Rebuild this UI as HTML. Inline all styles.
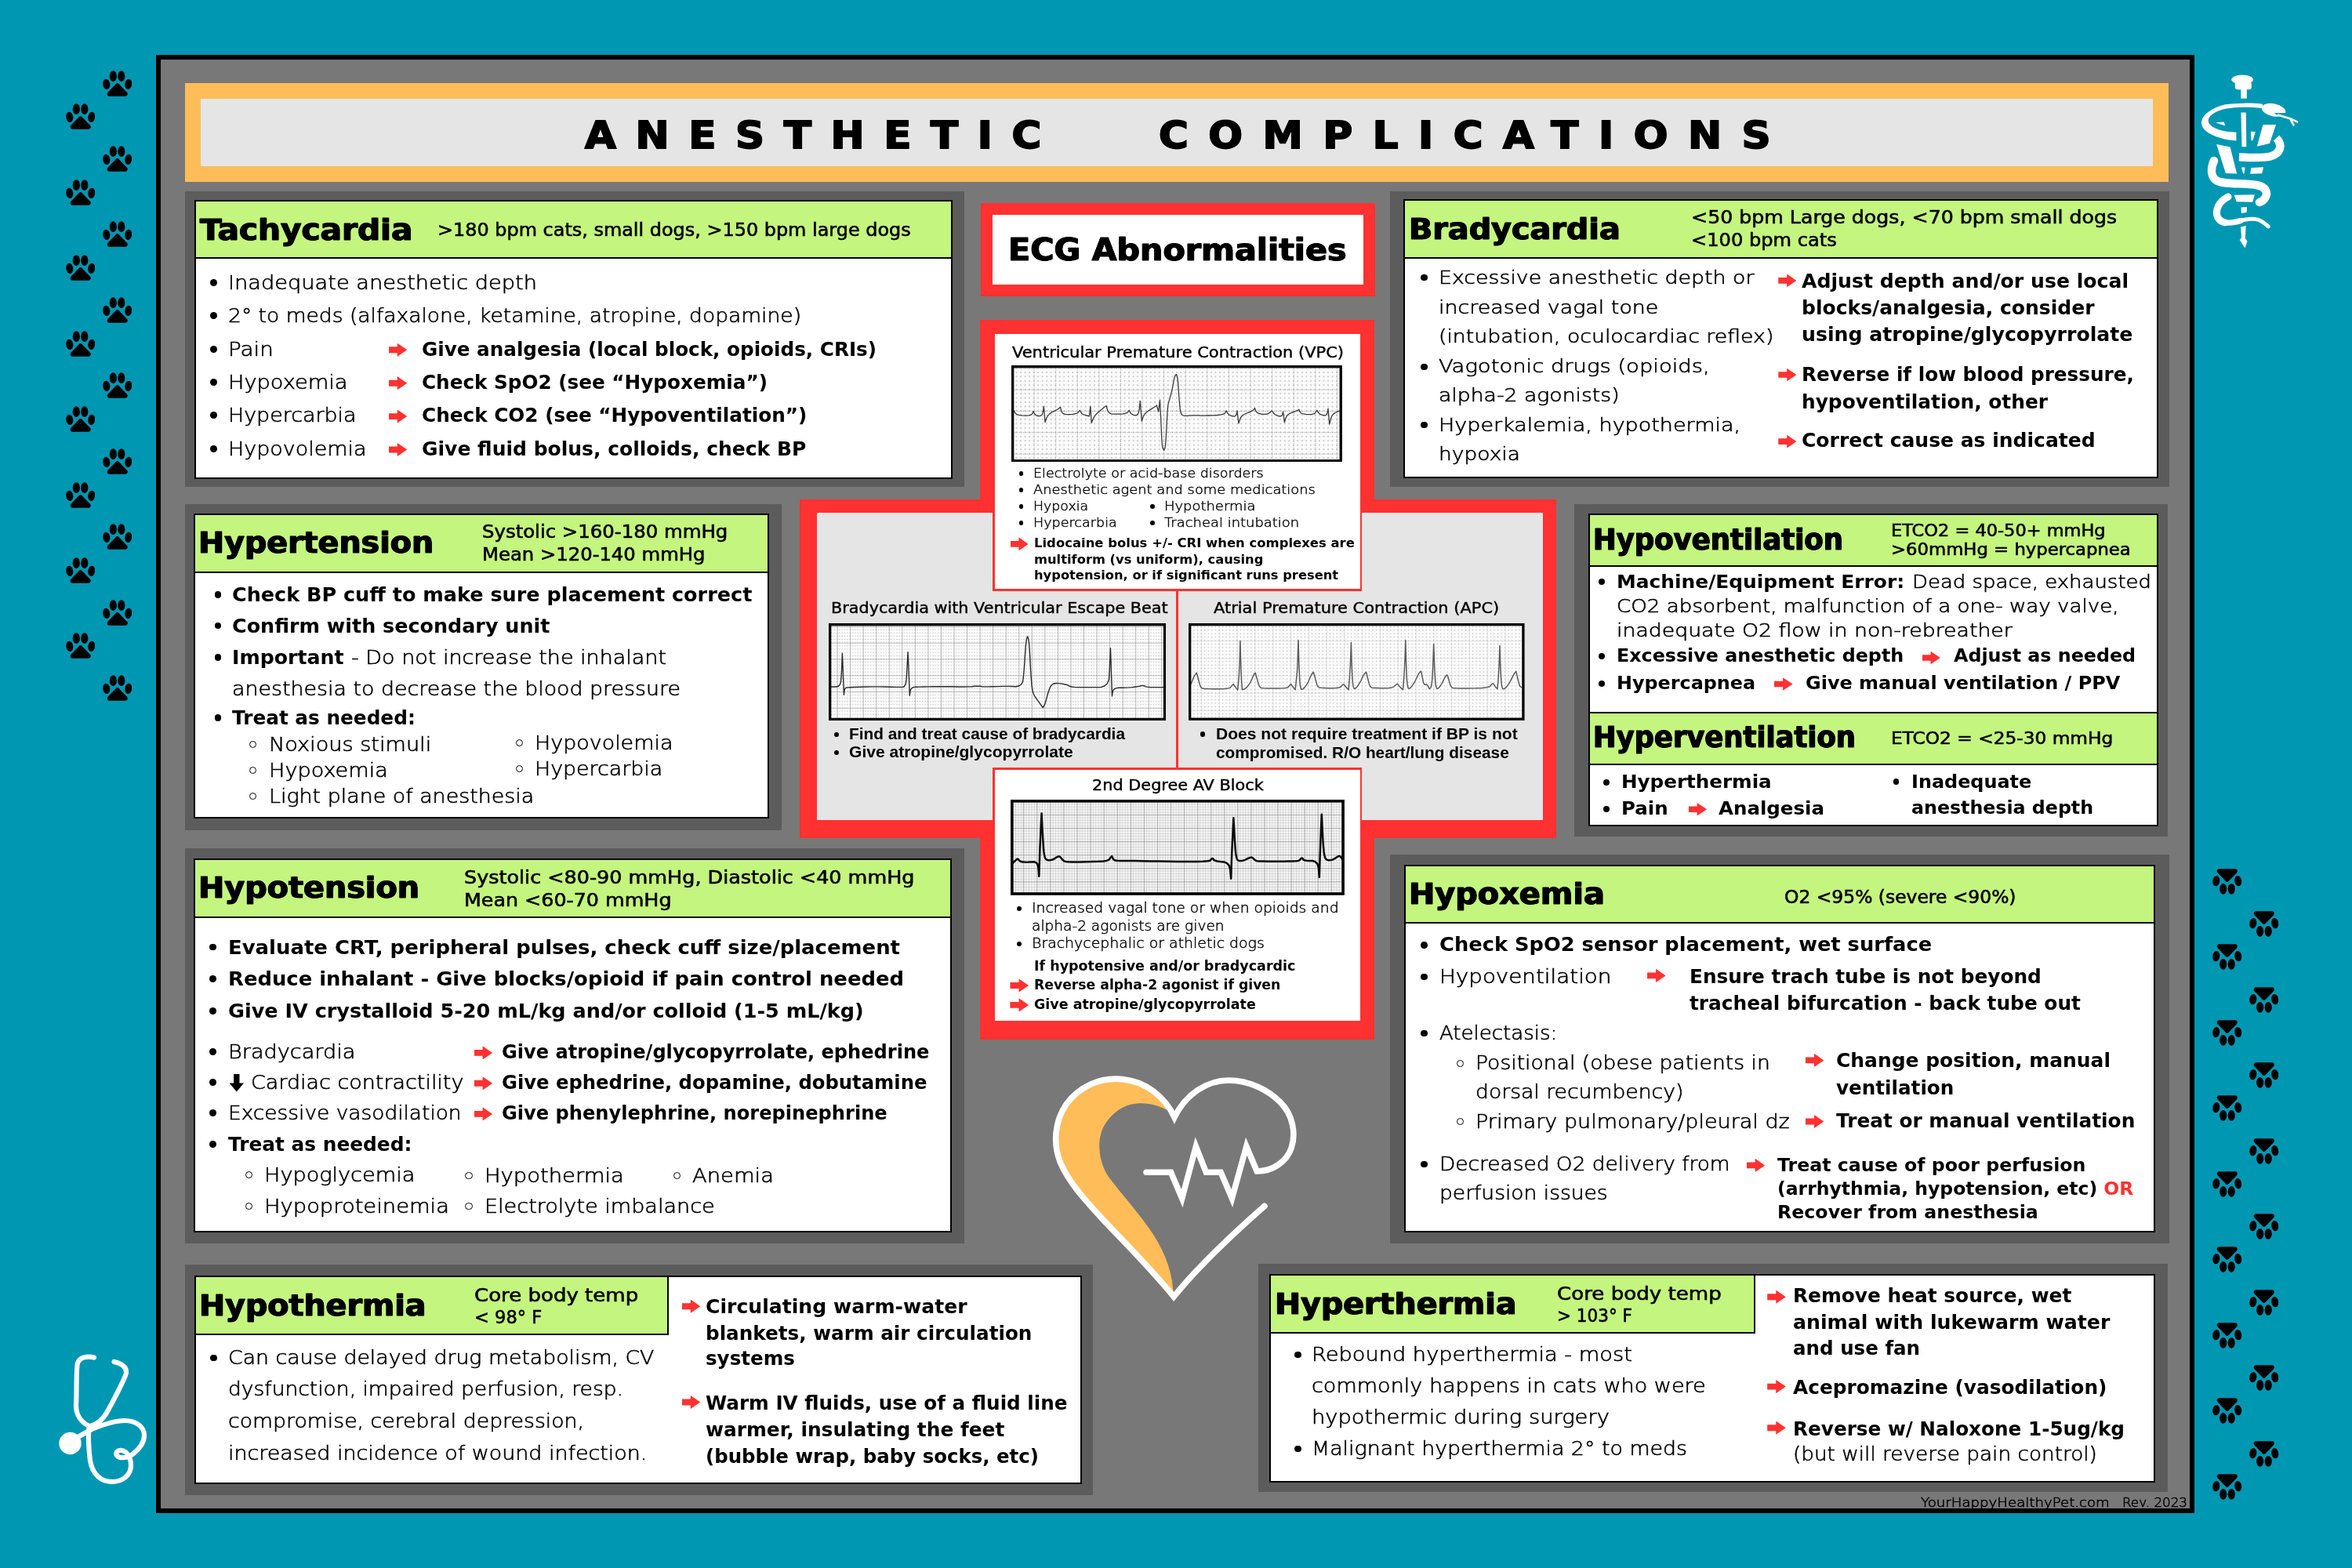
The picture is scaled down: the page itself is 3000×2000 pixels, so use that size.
<!DOCTYPE html>
<html lang="en"><head><meta charset="utf-8"><title>Anesthetic Complications</title>
<style>
html,body{margin:0;padding:0}
body{width:3000px;height:2000px;background:#0097b2;position:relative;overflow:hidden;font-family:'DejaVu Sans','Liberation Sans',sans-serif;color:#000}
#page{position:absolute;left:0;top:0;width:3000px;height:2000px;will-change:transform}
.bx,.t,i,svg.ecg,svg.paw,svg.ic{position:absolute;display:block}
.main{border:6px solid #000;box-sizing:border-box}
.pan{border:2px solid #000;box-sizing:border-box}
.hd{border:2px solid #000;box-sizing:border-box}
.t{white-space:nowrap;line-height:1;transform-origin:0 0;margin:0}
.dot{background:#000;border-radius:50%}
.ring{border:1.4px solid #000;border-radius:50%;box-sizing:border-box}
.ar{background:#ff3131;clip-path:polygon(0 27%,47% 27%,47% 0,100% 50%,47% 100%,47% 73%,0 73%)}
.dn{background:#000;clip-path:polygon(30% 0,70% 0,70% 52%,100% 52%,50% 100%,0 52%,30% 52%)}
.sH{font-family:'DejaVu Sans',sans-serif;font-weight:bold;-webkit-text-stroke:0.8px #000;text-shadow:.7px 0 #000,-.7px 0 #000;}
.sT{font-family:'DejaVu Sans',sans-serif;font-weight:bold;-webkit-text-stroke:1.8px #000;text-shadow:.7px 0 #000,-.7px 0 #000;}
.sS{font-family:'DejaVu Sans',sans-serif;font-weight:normal;-webkit-text-stroke:0.6px #000;}
.sM{font-family:'DejaVu Sans',sans-serif;font-weight:normal;-webkit-text-stroke:0.4px #000;}
.sL{font-family:'DejaVu Sans Light','DejaVu Sans',sans-serif;font-weight:normal;-webkit-text-stroke:0.6px #000;}
.sl{font-family:'DejaVu Sans Light','DejaVu Sans',sans-serif;font-weight:normal;-webkit-text-stroke:0.45px #000;}
.sB{font-family:'DejaVu Sans',sans-serif;font-weight:bold;}
.sO{font-family:'Liberation Sans',sans-serif;font-weight:bold;}
.sF{font-family:'DejaVu Sans Light','DejaVu Sans',sans-serif;font-weight:normal;-webkit-text-stroke:0.55px #000;}</style></head>
<body>
<main id="page">
<section class="frame">
<div class="bx main" style="left:198.6px;top:70px;width:2600.6px;height:1859.5px;background:#787878;"></div>
<div class="bx tb" style="left:235.7px;top:106px;width:2530.3px;height:126px;background:#ffbd59;"></div>
<div class="bx tbi" style="left:255.8px;top:126.2px;width:2490.2px;height:86px;background:#e5e5e5;"></div>
<h1 class="t sT" style="left:746.3px;top:147.58px;font-size:48.6px;letter-spacing:23.22px;transform:scaleX(1.06);">ANESTHETIC</h1>
<h1 class="t sT" style="left:1478.3px;top:147.58px;font-size:48.6px;letter-spacing:24.07px;transform:scaleX(1.06);">COMPLICATIONS</h1>
</section>
<section class="tachy">
<div class="bx back" style="left:235.9px;top:243.8px;width:994.3px;height:377.5px;background:#5c5c5c;"></div>
<div class="bx pan" style="left:247.6px;top:254.5px;width:967.1px;height:356.6px;background:#fff;"></div>
<div class="bx hd" style="left:247.6px;top:254.5px;width:967.1px;height:75.8px;background:#c4f57f;"></div>
<h2 class="t sH" style="left:254.5px;top:274.79px;font-size:37.6px;transform:scaleX(1.0817);">Tachycardia</h2>
<p class="t sS" style="left:557.5px;top:281.19px;font-size:23.3px;transform:scaleX(1.0268);">&gt;180 bpm cats, small dogs, &gt;150 bpm large dogs</p>
<i class="dot" style="left:267.73px;top:355.78px;width:8.94px;height:8.94px"></i>
<i class="dot" style="left:267.73px;top:398.28px;width:8.94px;height:8.94px"></i>
<i class="dot" style="left:267.73px;top:440.68px;width:8.94px;height:8.94px"></i>
<i class="dot" style="left:267.73px;top:483.08px;width:8.94px;height:8.94px"></i>
<i class="dot" style="left:267.73px;top:525.48px;width:8.94px;height:8.94px"></i>
<i class="dot" style="left:267.73px;top:567.88px;width:8.94px;height:8.94px"></i>
<p class="t sL" style="left:291.4px;top:347.71px;font-size:25.4px;transform:scaleX(1.0723);">Inadequate anesthetic depth</p>
<p class="t sL" style="left:291.4px;top:390.21px;font-size:25.4px;transform:scaleX(1.0449);">2° to meds (alfaxalone, ketamine, atropine, dopamine)</p>
<p class="t sL" style="left:291.4px;top:432.61px;font-size:25.4px;transform:scaleX(1.0966);">Pain</p>
<i class="ar" style="left:495.7px;top:437.7px;width:23.6px;height:17.2px"></i>
<p class="t sB" style="left:537.6px;top:432.61px;font-size:25.4px;transform:scaleX(0.9712);">Give analgesia (local block, opioids, CRIs)</p>
<p class="t sL" style="left:291.4px;top:475.01px;font-size:25.4px;transform:scaleX(1.0724);">Hypoxemia</p>
<i class="ar" style="left:495.7px;top:480.1px;width:23.6px;height:17.2px"></i>
<p class="t sB" style="left:537.6px;top:475.01px;font-size:25.4px;transform:scaleX(0.9723);">Check SpO2 (see “Hypoxemia”)</p>
<p class="t sL" style="left:291.4px;top:517.41px;font-size:25.4px;transform:scaleX(1.0587);">Hypercarbia</p>
<i class="ar" style="left:495.7px;top:522.5px;width:23.6px;height:17.2px"></i>
<p class="t sB" style="left:537.6px;top:517.41px;font-size:25.4px;transform:scaleX(0.9734);">Check CO2 (see “Hypoventilation”)</p>
<p class="t sL" style="left:291.4px;top:559.81px;font-size:25.4px;transform:scaleX(1.0604);">Hypovolemia</p>
<i class="ar" style="left:495.7px;top:564.9px;width:23.6px;height:17.2px"></i>
<p class="t sB" style="left:537.6px;top:559.81px;font-size:25.4px;transform:scaleX(0.9852);">Give fluid bolus, colloids, check BP</p>
</section>
<section class="hypertension">
<div class="bx back" style="left:236px;top:642.6px;width:760.7px;height:416.2px;background:#5c5c5c;"></div>
<div class="bx pan" style="left:247.4px;top:655.1px;width:733.9px;height:388.9px;background:#fff;"></div>
<div class="bx hd" style="left:247.4px;top:655.1px;width:733.9px;height:75.8px;background:#c4f57f;"></div>
<h2 class="t sH" style="left:253.4px;top:674.49px;font-size:37.6px;transform:scaleX(1.0534);">Hypertension</h2>
<p class="t sS" style="left:614.7px;top:665.99px;font-size:23.3px;transform:scaleX(1.0470);">Systolic &gt;160-180 mmHg</p>
<p class="t sS" style="left:614.7px;top:694.89px;font-size:23.3px;transform:scaleX(1.0427);">Mean &gt;120-140 mmHg</p>
<i class="dot" style="left:273.59px;top:753.78px;width:8.81px;height:8.81px"></i>
<i class="dot" style="left:273.59px;top:793.58px;width:8.81px;height:8.81px"></i>
<i class="dot" style="left:273.59px;top:833.98px;width:8.81px;height:8.81px"></i>
<i class="dot" style="left:273.59px;top:911.28px;width:8.81px;height:8.81px"></i>
<p class="t sB" style="left:296.3px;top:745.85px;font-size:25px;transform:scaleX(1.0191);">Check BP cuff to make sure placement correct</p>
<p class="t sB" style="left:296.3px;top:785.65px;font-size:25px;transform:scaleX(1.0161);">Confirm with secondary unit</p>
<p class="t sB" style="left:296.3px;top:826.05px;font-size:25px;transform:scaleX(1.0090);">Important</p>
<p class="t sL" style="left:448.2px;top:826.05px;font-size:25px;transform:scaleX(1.0791);">- Do not increase the inhalant</p>
<p class="t sL" style="left:296.3px;top:865.85px;font-size:25px;transform:scaleX(1.0735);">anesthesia to decrease the blood pressure</p>
<p class="t sB" style="left:296.3px;top:903.35px;font-size:25px;transform:scaleX(0.9905);">Treat as needed:</p>
<i class="ring" style="left:318.36px;top:944.95px;width:9.07px;height:9.07px"></i>
<p class="t sL" style="left:342.8px;top:937.15px;font-size:25px;transform:scaleX(1.0851);">Noxious stimuli</p>
<i class="ring" style="left:318.36px;top:978.15px;width:9.07px;height:9.07px"></i>
<p class="t sL" style="left:342.8px;top:970.35px;font-size:25px;transform:scaleX(1.0842);">Hypoxemia</p>
<i class="ring" style="left:318.36px;top:1010.65px;width:9.07px;height:9.07px"></i>
<p class="t sL" style="left:342.8px;top:1002.85px;font-size:25px;transform:scaleX(1.0746);">Light plane of anesthesia</p>
<i class="ring" style="left:657.56px;top:942.65px;width:9.07px;height:9.07px"></i>
<p class="t sL" style="left:682px;top:934.85px;font-size:25px;transform:scaleX(1.0769);">Hypovolemia</p>
<i class="ring" style="left:657.56px;top:975.85px;width:9.07px;height:9.07px"></i>
<p class="t sL" style="left:682px;top:968.05px;font-size:25px;transform:scaleX(1.0732);">Hypercarbia</p>
</section>
<section class="hypotension">
<div class="bx back" style="left:235.5px;top:1082.4px;width:994px;height:503.6px;background:#5c5c5c;"></div>
<div class="bx pan" style="left:247.2px;top:1094.5px;width:967px;height:477px;background:#fff;"></div>
<div class="bx hd" style="left:247.2px;top:1094.5px;width:967px;height:76.1px;background:#c4f57f;"></div>
<h2 class="t sH" style="left:253.4px;top:1114.19px;font-size:37.6px;transform:scaleX(1.0578);">Hypotension</h2>
<p class="t sS" style="left:591.6px;top:1106.99px;font-size:23.3px;transform:scaleX(1.0921);">Systolic &lt;80-90 mmHg, Diastolic &lt;40 mmHg</p>
<p class="t sS" style="left:591.6px;top:1135.69px;font-size:23.3px;transform:scaleX(1.0876);">Mean &lt;60-70 mmHg</p>
<i class="dot" style="left:267.28px;top:1203.63px;width:8.84px;height:8.84px"></i>
<i class="dot" style="left:267.28px;top:1243.93px;width:8.84px;height:8.84px"></i>
<i class="dot" style="left:267.28px;top:1284.83px;width:8.84px;height:8.84px"></i>
<i class="dot" style="left:267.28px;top:1337.43px;width:8.84px;height:8.84px"></i>
<i class="dot" style="left:267.28px;top:1376.33px;width:8.84px;height:8.84px"></i>
<i class="dot" style="left:267.28px;top:1415.43px;width:8.84px;height:8.84px"></i>
<i class="dot" style="left:267.28px;top:1454.93px;width:8.84px;height:8.84px"></i>
<p class="t sB" style="left:291px;top:1195.58px;font-size:25.2px;transform:scaleX(1.0291);">Evaluate CRT, peripheral pulses, check cuff size/placement</p>
<p class="t sB" style="left:291px;top:1235.88px;font-size:25.2px;transform:scaleX(1.0265);">Reduce inhalant - Give blocks/opioid if pain control needed</p>
<p class="t sB" style="left:291px;top:1276.78px;font-size:25.2px;transform:scaleX(1.0130);">Give IV crystalloid 5-20 mL/kg and/or colloid (1-5 mL/kg)</p>
<p class="t sL" style="left:291px;top:1329.38px;font-size:25.2px;transform:scaleX(1.0763);">Bradycardia</p>
<i class="dn" style="left:292.6px;top:1369.6px;width:18.4px;height:23px"></i>
<p class="t sL" style="left:320.2px;top:1368.28px;font-size:25.2px;transform:scaleX(1.0701);">Cardiac contractility</p>
<p class="t sL" style="left:291px;top:1407.38px;font-size:25.2px;transform:scaleX(1.0482);">Excessive vasodilation</p>
<i class="ar" style="left:604.5px;top:1334.3px;width:23.6px;height:17.2px"></i>
<p class="t sB" style="left:640.1px;top:1329.38px;font-size:25.2px;transform:scaleX(0.9561);">Give atropine/glycopyrrolate, ephedrine</p>
<i class="ar" style="left:604.5px;top:1373.2px;width:23.6px;height:17.2px"></i>
<p class="t sB" style="left:640.1px;top:1368.28px;font-size:25.2px;transform:scaleX(0.9635);">Give ephedrine, dopamine, dobutamine</p>
<i class="ar" style="left:604.5px;top:1412.3px;width:23.6px;height:17.2px"></i>
<p class="t sB" style="left:640.1px;top:1407.38px;font-size:25.2px;transform:scaleX(0.9575);">Give phenylephrine, norepinephrine</p>
<p class="t sB" style="left:291px;top:1446.88px;font-size:25.2px;transform:scaleX(0.9857);">Treat as needed:</p>
<i class="ring" style="left:312.65px;top:1494.2px;width:9.11px;height:9.11px"></i>
<p class="t sL" style="left:337.4px;top:1486.28px;font-size:25.2px;transform:scaleX(1.0768);">Hypoglycemia</p>
<i class="ring" style="left:312.65px;top:1533.7px;width:9.11px;height:9.11px"></i>
<p class="t sL" style="left:337.4px;top:1525.78px;font-size:25.2px;transform:scaleX(1.0863);">Hypoproteinemia</p>
<i class="ring" style="left:593.45px;top:1495px;width:9.11px;height:9.11px"></i>
<p class="t sL" style="left:617.8px;top:1487.08px;font-size:25.2px;transform:scaleX(1.0877);">Hypothermia</p>
<i class="ring" style="left:593.45px;top:1533.7px;width:9.11px;height:9.11px"></i>
<p class="t sL" style="left:617.8px;top:1525.78px;font-size:25.2px;transform:scaleX(1.0745);">Electrolyte imbalance</p>
<i class="ring" style="left:858.85px;top:1495px;width:9.11px;height:9.11px"></i>
<p class="t sL" style="left:882.7px;top:1487.08px;font-size:25.2px;transform:scaleX(1.0870);">Anemia</p>
</section>
<section class="hypothermia">
<div class="bx back" style="left:236px;top:1612.5px;width:1158px;height:294.5px;background:#5c5c5c;"></div>
<div class="bx pan" style="left:247.8px;top:1626.8px;width:1131.9px;height:266px;background:#fff;"></div>
<div class="bx hd" style="left:247.8px;top:1626.8px;width:605.1px;height:76.5px;background:#c4f57f;"></div>
<h2 class="t sH" style="left:253.6px;top:1647.29px;font-size:37.6px;transform:scaleX(1.0535);">Hypothermia</h2>
<p class="t sS" style="left:605.3px;top:1640.49px;font-size:23.3px;transform:scaleX(1.1169);">Core body temp</p>
<p class="t sS" style="left:605.3px;top:1668.09px;font-size:23.3px;transform:scaleX(0.9693);">&lt; 98° F</p>
<i class="dot" style="left:268.28px;top:1727.54px;width:8.64px;height:8.64px"></i>
<p class="t sL" style="left:291.2px;top:1719.69px;font-size:24.6px;transform:scaleX(1.0873);">Can cause delayed drug metabolism, CV</p>
<p class="t sL" style="left:291.2px;top:1760.19px;font-size:24.6px;transform:scaleX(1.0781);">dysfunction, impaired perfusion, resp.</p>
<p class="t sL" style="left:291.2px;top:1801.19px;font-size:24.6px;transform:scaleX(1.0864);">compromise, cerebral depression,</p>
<p class="t sL" style="left:291.2px;top:1841.69px;font-size:24.6px;transform:scaleX(1.0935);">increased incidence of wound infection.</p>
<i class="ar" style="left:869.7px;top:1657.6px;width:23.6px;height:17.2px"></i>
<i class="ar" style="left:869.7px;top:1779.9px;width:23.6px;height:17.2px"></i>
<p class="t sB" style="left:899.8px;top:1654.3px;font-size:25.3px;transform:scaleX(0.9926);">Circulating warm-water</p>
<p class="t sB" style="left:899.8px;top:1687.9px;font-size:25.3px;transform:scaleX(0.9755);">blankets, warm air circulation</p>
<p class="t sB" style="left:899.8px;top:1720.1px;font-size:25.3px;transform:scaleX(0.9712);">systems</p>
<p class="t sB" style="left:899.8px;top:1776.9px;font-size:25.3px;transform:scaleX(0.9747);">Warm IV fluids, use of a fluid line</p>
<p class="t sB" style="left:899.8px;top:1810.9px;font-size:25.3px;transform:scaleX(0.9821);">warmer, insulating the feet</p>
<p class="t sB" style="left:899.8px;top:1844.6px;font-size:25.3px;transform:scaleX(0.9655);">(bubble wrap, baby socks, etc)</p>
</section>
<section class="bradycardia">
<div class="bx back" style="left:1772.7px;top:244.4px;width:994.8px;height:376.9px;background:#5c5c5c;"></div>
<div class="bx pan" style="left:1790.1px;top:254.4px;width:963.2px;height:355.9px;background:#fff;"></div>
<div class="bx hd" style="left:1790.1px;top:254.4px;width:963.2px;height:75.9px;background:#c4f57f;"></div>
<h2 class="t sH" style="left:1796.7px;top:274.09px;font-size:37.6px;transform:scaleX(1.0567);">Bradycardia</h2>
<p class="t sS" style="left:2156.8px;top:265.49px;font-size:23.3px;transform:scaleX(1.0828);">&lt;50 bpm Large dogs, &lt;70 bpm small dogs</p>
<p class="t sS" style="left:2156.8px;top:294.29px;font-size:23.3px;transform:scaleX(1.0360);">&lt;100 bpm cats</p>
<i class="dot" style="left:1812.4px;top:350.19px;width:8.21px;height:8.21px"></i>
<i class="dot" style="left:1812.4px;top:463.69px;width:8.21px;height:8.21px"></i>
<i class="dot" style="left:1812.4px;top:538.19px;width:8.21px;height:8.21px"></i>
<p class="t sL" style="left:1834.7px;top:342.7px;font-size:23.4px;transform:scaleX(1.1447);">Excessive anesthetic depth or</p>
<p class="t sL" style="left:1834.7px;top:380.6px;font-size:23.4px;transform:scaleX(1.1489);">increased vagal tone</p>
<p class="t sL" style="left:1834.7px;top:418.2px;font-size:23.4px;transform:scaleX(1.1436);">(intubation, oculocardiac reflex)</p>
<p class="t sL" style="left:1834.7px;top:456.2px;font-size:23.4px;transform:scaleX(1.1719);">Vagotonic drugs (opioids,</p>
<p class="t sL" style="left:1834.7px;top:493.4px;font-size:23.4px;transform:scaleX(1.1400);">alpha-2 agonists)</p>
<p class="t sL" style="left:1834.7px;top:530.7px;font-size:23.4px;transform:scaleX(1.1546);">Hyperkalemia, hypothermia,</p>
<p class="t sL" style="left:1834.7px;top:568.3px;font-size:23.4px;transform:scaleX(1.1320);">hypoxia</p>
<i class="ar" style="left:2268.3px;top:349.6px;width:23.2px;height:16.6px"></i>
<i class="ar" style="left:2268.3px;top:469.7px;width:23.2px;height:16.6px"></i>
<i class="ar" style="left:2268.3px;top:554.8px;width:23.2px;height:16.6px"></i>
<p class="t sB" style="left:2297.8px;top:347.02px;font-size:24.8px;transform:scaleX(1.0143);">Adjust depth and/or use local</p>
<p class="t sB" style="left:2297.8px;top:381.02px;font-size:24.8px;transform:scaleX(1.0095);">blocks/analgesia, consider</p>
<p class="t sB" style="left:2297.8px;top:415.02px;font-size:24.8px;transform:scaleX(1.0153);">using atropine/glycopyrrolate</p>
<p class="t sB" style="left:2297.8px;top:466.02px;font-size:24.8px;transform:scaleX(0.9963);">Reverse if low blood pressure,</p>
<p class="t sB" style="left:2297.8px;top:501.02px;font-size:24.8px;transform:scaleX(1.0015);">hypoventilation, other</p>
<p class="t sB" style="left:2297.8px;top:550.42px;font-size:24.8px;transform:scaleX(1.0087);">Correct cause as indicated</p>
</section>
<section class="ventilation">
<div class="bx back" style="left:2008.3px;top:642.6px;width:757.2px;height:424.4px;background:#5c5c5c;"></div>
<div class="bx pan" style="left:2025.7px;top:655.1px;width:727.2px;height:399.2px;background:#fff;"></div>
<div class="bx hd" style="left:2025.7px;top:655.1px;width:727.2px;height:67.5px;background:#c4f57f;"></div>
<div class="bx hd hd2" style="left:2025.7px;top:907.6px;width:727.2px;height:68.9px;background:#c4f57f;"></div>
<h2 class="t sH" style="left:2031.7px;top:671.04px;font-size:36.6px;transform:scaleX(0.9699);">Hypoventilation</h2>
<p class="t sS" style="left:2412.2px;top:665.57px;font-size:21.9px;transform:scaleX(1.0265);">ETCO2 = 40-50+ mmHg</p>
<p class="t sS" style="left:2412.2px;top:690.47px;font-size:21.9px;transform:scaleX(1.0391);">&gt;60mmHg = hypercapnea</p>
<i class="dot" style="left:2039.13px;top:738.49px;width:7.94px;height:7.94px"></i>
<i class="dot" style="left:2039.13px;top:832.99px;width:7.94px;height:7.94px"></i>
<i class="dot" style="left:2039.13px;top:867.79px;width:7.94px;height:7.94px"></i>
<p class="t sB" style="left:2062.3px;top:730.94px;font-size:23px;transform:scaleX(1.0824);">Machine/Equipment Error:</p>
<p class="t sL" style="left:2439.4px;top:730.94px;font-size:23px;transform:scaleX(1.1283);">Dead space, exhausted</p>
<p class="t sL" style="left:2062.3px;top:761.84px;font-size:23px;transform:scaleX(1.1365);">CO2 absorbent, malfunction of a one- way valve,</p>
<p class="t sL" style="left:2062.3px;top:792.94px;font-size:23px;transform:scaleX(1.1626);">inadequate O2 flow in non-rebreather</p>
<p class="t sB" style="left:2062.3px;top:825.44px;font-size:23px;transform:scaleX(1.0338);">Excessive anesthetic depth</p>
<i class="ar" style="left:2451.7px;top:830.7px;width:23.2px;height:16.6px"></i>
<p class="t sB" style="left:2491.5px;top:825.44px;font-size:23px;transform:scaleX(1.0337);">Adjust as needed</p>
<p class="t sB" style="left:2062.3px;top:860.24px;font-size:23px;transform:scaleX(1.0371);">Hypercapnea</p>
<i class="ar" style="left:2263px;top:864.2px;width:23.6px;height:16.6px"></i>
<p class="t sB" style="left:2303.4px;top:860.24px;font-size:23px;transform:scaleX(1.0417);">Give manual ventilation / PPV</p>
<h2 class="t sH" style="left:2031.7px;top:923.04px;font-size:36.6px;transform:scaleX(0.9662);">Hyperventilation</h2>
<p class="t sS" style="left:2412.2px;top:930.87px;font-size:21.9px;transform:scaleX(1.0625);">ETCO2 = &lt;25-30 mmHg</p>
<i class="dot" style="left:2044.73px;top:993.89px;width:7.94px;height:7.94px"></i>
<i class="dot" style="left:2044.73px;top:1027.69px;width:7.94px;height:7.94px"></i>
<i class="dot" style="left:2414.53px;top:993.19px;width:7.94px;height:7.94px"></i>
<p class="t sB" style="left:2068px;top:986.34px;font-size:23px;transform:scaleX(1.0690);">Hyperthermia</p>
<p class="t sB" style="left:2068px;top:1020.14px;font-size:23px;transform:scaleX(1.0655);">Pain</p>
<i class="ar" style="left:2153.5px;top:1024px;width:23.6px;height:16.6px"></i>
<p class="t sB" style="left:2192.3px;top:1020.14px;font-size:23px;transform:scaleX(1.0651);">Analgesia</p>
<p class="t sB" style="left:2437.8px;top:985.64px;font-size:23px;transform:scaleX(1.0389);">Inadequate</p>
<p class="t sB" style="left:2437.8px;top:1019.44px;font-size:23px;transform:scaleX(1.0308);">anesthesia depth</p>
</section>
<section class="hypoxemia">
<div class="bx back" style="left:1772.7px;top:1089.5px;width:993.9px;height:496.3px;background:#5c5c5c;"></div>
<div class="bx pan" style="left:1790.8px;top:1102.5px;width:958.2px;height:469.5px;background:#fff;"></div>
<div class="bx hd" style="left:1790.8px;top:1102.5px;width:958.2px;height:75.7px;background:#c4f57f;"></div>
<h2 class="t sH" style="left:1796.7px;top:1122.19px;font-size:37.6px;transform:scaleX(1.0599);">Hypoxemia</h2>
<p class="t sS" style="left:2275.7px;top:1132.09px;font-size:23.3px;transform:scaleX(1.0046);">O2 &lt;95% (severe &lt;90%)</p>
<i class="dot" style="left:1812.38px;top:1201.04px;width:8.64px;height:8.64px"></i>
<i class="dot" style="left:1812.38px;top:1241.54px;width:8.64px;height:8.64px"></i>
<i class="dot" style="left:1812.38px;top:1313.54px;width:8.64px;height:8.64px"></i>
<i class="dot" style="left:1812.38px;top:1480.54px;width:8.64px;height:8.64px"></i>
<p class="t sB" style="left:1835.6px;top:1193.19px;font-size:24.6px;transform:scaleX(1.0459);">Check SpO2 sensor placement, wet surface</p>
<p class="t sL" style="left:1835.6px;top:1233.69px;font-size:24.6px;transform:scaleX(1.1282);">Hypoventilation</p>
<i class="ar" style="left:2101px;top:1235.8px;width:23.6px;height:17.2px"></i>
<p class="t sB" style="left:2154.6px;top:1234.19px;font-size:24.6px;transform:scaleX(1.0068);">Ensure trach tube is not beyond</p>
<p class="t sB" style="left:2154.6px;top:1268.19px;font-size:24.6px;transform:scaleX(1.0095);">tracheal bifurcation - back tube out</p>
<p class="t sL" style="left:1835.6px;top:1305.69px;font-size:24.6px;transform:scaleX(1.0575);">Atelectasis:</p>
<i class="ring" style="left:1858.15px;top:1351.61px;width:8.9px;height:8.9px"></i>
<i class="ring" style="left:1858.15px;top:1426.31px;width:8.9px;height:8.9px"></i>
<p class="t sL" style="left:1881.9px;top:1343.89px;font-size:24.6px;transform:scaleX(1.0824);">Positional (obese patients in</p>
<p class="t sL" style="left:1881.9px;top:1381.19px;font-size:24.6px;transform:scaleX(1.0829);">dorsal recumbency)</p>
<p class="t sL" style="left:1881.9px;top:1418.59px;font-size:24.6px;transform:scaleX(1.0978);">Primary pulmonary/pleural dz</p>
<i class="ar" style="left:2302.8px;top:1343.8px;width:23.6px;height:17.2px"></i>
<i class="ar" style="left:2302.8px;top:1421.9px;width:23.6px;height:17.2px"></i>
<p class="t sB" style="left:2342.3px;top:1341.19px;font-size:24.6px;transform:scaleX(1.0150);">Change position, manual</p>
<p class="t sB" style="left:2342.3px;top:1375.59px;font-size:24.6px;transform:scaleX(1.0018);">ventilation</p>
<p class="t sB" style="left:2342.3px;top:1417.69px;font-size:24.6px;transform:scaleX(1.0081);">Treat or manual ventilation</p>
<p class="t sL" style="left:1835.6px;top:1472.69px;font-size:24.6px;transform:scaleX(1.0730);">Decreased O2 delivery from</p>
<p class="t sL" style="left:1835.6px;top:1509.99px;font-size:24.6px;transform:scaleX(1.0778);">perfusion issues</p>
<i class="ar" style="left:2227.6px;top:1477.8px;width:23.6px;height:17.2px"></i>
<p class="t sB" style="left:2267.1px;top:1475.2px;font-size:23.4px;transform:scaleX(1.0120);">Treat cause of poor perfusion</p>
<p class="t sB" style="left:2267.1px;top:1505.4px;font-size:23.4px;transform:scaleX(1.0048);"><span class="sB">(arrhythmia, hypotension, etc) </span><span class="sB" style="color:#ff3131;-webkit-text-stroke-color:#ff3131">OR</span></p>
<p class="t sB" style="left:2267.1px;top:1535px;font-size:23.4px;transform:scaleX(1.0129);">Recover from anesthesia</p>
</section>
<section class="hyperthermia">
<div class="bx back" style="left:1605px;top:1611.5px;width:1160px;height:291.4px;background:#5c5c5c;"></div>
<div class="bx pan" style="left:1618.8px;top:1624.8px;width:1130.4px;height:266px;background:#fff;"></div>
<div class="bx hd" style="left:1618.8px;top:1624.8px;width:620.2px;height:76.5px;background:#c4f57f;"></div>
<h2 class="t sH" style="left:1625.6px;top:1644.69px;font-size:37.6px;transform:scaleX(1.0532);">Hyperthermia</h2>
<p class="t sS" style="left:1985.8px;top:1638.49px;font-size:23.3px;transform:scaleX(1.1196);">Core body temp</p>
<p class="t sS" style="left:1985.8px;top:1666.09px;font-size:23.3px;transform:scaleX(0.9234);">&gt; 103° F</p>
<i class="dot" style="left:1650.88px;top:1723.54px;width:8.64px;height:8.64px"></i>
<i class="dot" style="left:1650.88px;top:1843.64px;width:8.64px;height:8.64px"></i>
<p class="t sL" style="left:1672.8px;top:1715.69px;font-size:24.6px;transform:scaleX(1.1074);">Rebound hyperthermia - most</p>
<p class="t sL" style="left:1672.8px;top:1755.69px;font-size:24.6px;transform:scaleX(1.0996);">commonly happens in cats who were</p>
<p class="t sL" style="left:1672.8px;top:1795.59px;font-size:24.6px;transform:scaleX(1.1108);">hypothermic during surgery</p>
<p class="t sL" style="left:1672.8px;top:1835.79px;font-size:24.6px;transform:scaleX(1.0915);">Malignant hyperthermia 2° to meds</p>
<i class="ar" style="left:2254.2px;top:1645.6px;width:23.6px;height:17.2px"></i>
<i class="ar" style="left:2254.2px;top:1760px;width:23.6px;height:17.2px"></i>
<i class="ar" style="left:2254.2px;top:1812.6px;width:23.6px;height:17.2px"></i>
<p class="t sB" style="left:2286.8px;top:1640.3px;font-size:25.3px;transform:scaleX(0.9813);">Remove heat source, wet</p>
<p class="t sB" style="left:2286.8px;top:1674px;font-size:25.3px;transform:scaleX(0.9964);">animal with lukewarm water</p>
<p class="t sB" style="left:2286.8px;top:1706.9px;font-size:25.3px;transform:scaleX(0.9699);">and use fan</p>
<p class="t sB" style="left:2286.8px;top:1756.8px;font-size:25.3px;transform:scaleX(0.9807);">Acepromazine (vasodilation)</p>
<p class="t sB" style="left:2286.8px;top:1809.6px;font-size:25.3px;transform:scaleX(0.9766);">Reverse w/ Naloxone 1-5ug/kg</p>
<p class="t sL" style="left:2286.8px;top:1843.19px;font-size:24.6px;transform:scaleX(1.0694);">(but will reverse pain control)</p>
<p class="t sF" style="left:2450.4px;top:1908.59px;font-size:16.2px;transform:scaleX(1.1214);">YourHappyHealthyPet.com</p>
<p class="t sF" style="left:2707.3px;top:1908.59px;font-size:16.2px;transform:scaleX(1.0337);">Rev. 2023</p>
</section>
<section class="ecg">
<div class="bx ecgt" style="left:1251px;top:259px;width:502.6px;height:119.4px;background:#ff3131;"></div>
<div class="bx ecgti" style="left:1265.8px;top:273.8px;width:472.9px;height:88.8px;background:#fff;"></div>
<div class="bx crossv" style="left:1250.3px;top:408px;width:502.7px;height:918.2px;background:#ff3131;"></div>
<div class="bx crossh" style="left:1020px;top:637px;width:964.8px;height:431.8px;background:#ff3131;"></div>
<div class="bx crossi" style="left:1042.2px;top:654.2px;width:925.6px;height:392px;background:#e5e5e5;"></div>
<div class="bx wb" style="left:1266.2px;top:426.4px;width:471.1px;height:327.2px;background:#ff3131;"></div>
<div class="bx wbi" style="left:1268.8px;top:426.4px;width:466px;height:324.2px;background:#fff;"></div>
<div class="bx wb" style="left:1266.2px;top:978.6px;width:471.1px;height:323.2px;background:#ff3131;"></div>
<div class="bx wbi" style="left:1268.9px;top:981.9px;width:465.8px;height:319.9px;background:#fff;"></div>
<div class="bx div" style="left:1499.5px;top:753px;width:3.1px;height:226px;background:#ff3131;"></div>
<h2 class="t sH" style="left:1285.9px;top:299.38px;font-size:39.5px;transform:scaleX(1.0439);">ECG Abnormalities</h2>
<h3 class="t sM" style="left:1290.5px;top:440.31px;font-size:18.9px;transform:scaleX(1.1100);">Ventricular Premature Contraction (VPC)</h3>
<svg class="ecg" style="left:1290px;top:466.1px" width="421.9" height="123.4" viewBox="0 0 421.9 123.4"><defs><pattern id="g1756m" width="5.52" height="5.46" patternUnits="userSpaceOnUse" x="-1.76" y="0.67"><rect x="2.11" y="2.08" width="1.3" height="1.3" fill="#9a9a9a"/></pattern><pattern id="g1756M" width="27.6" height="27.3" patternUnits="userSpaceOnUse" x="1" y="3.4"><path d="M0 0V27.3 M0 0H27.6" stroke="#8a8a8a" stroke-width="1.3" stroke-dasharray="1.4 1.35" fill="none"/></pattern></defs><rect width="421.9" height="123.4" fill="#fafafa"/><rect width="421.9" height="123.4" fill="url(#g1756m)"/><rect width="421.9" height="123.4" fill="url(#g1756M)"/><polyline points="3.3,57.9 5,61.1 6.9,62.6 9.7,63.4 13.6,63.9 18.5,64.1 22.3,63.8 25,63.2 26.8,61.8 28.1,58.6 29.6,61.8 30.9,63.3 32.3,64.1 34.1,64.5 36.3,64.6 38,63.9 39.4,62.4 40.4,59.3 41.4,52.2 43,72.8 44.9,67 46.7,64 48.8,61.9 51.6,59.9 55.1,58.2 57.8,56.8 59.8,55.6 61.2,54.6 62.5,53.3 63.8,58.2 65,60.5 66.4,61.7 68.3,62.4 70.6,62.6 72.9,62.7 75.4,62.6 77.9,62.4 80.5,62 82.6,61.4 84.3,60.7 85.6,59.6 87.3,57.4 88.9,60.3 90.1,61.7 91.6,62.6 94.1,63.5 99.3,64.8 100.9,52.2 102.2,73.5 104.4,68 106.2,64.9 108.3,62.3 110.9,59.8 114,57.2 116.6,55.1 118.4,53.6 119.8,52.5 121.1,51.5 122.6,57 123.9,59.6 125.5,60.9 127.5,61.8 130,62.1 132.7,62.2 135.7,62.2 138.9,62.1 142.3,61.8 145.1,61.3 147.1,60.7 148.7,59.6 150.2,57.4 151.9,60.5 153.2,62 154.8,62.9 156.7,63.5 159,63.8 160.8,62.9 162.2,60.7 163.2,56 164.3,45.3 166.3,71.2 168,65.7 169.7,62.6 171.9,60.2 174.9,57.9 178.6,55.6 181.5,53.8 183.5,52.5 184.7,51.7 185.4,51 187.7,59.1 189.5,44.1 190.4,62.2 190.9,72 191.2,79.4 191.5,86.6 191.8,93.5 192.2,99 192.6,103 193.3,105.8 194.6,108.4 195.9,105.8 196.6,101.5 197.1,94.6 197.7,84.9 198.3,72.3 198.9,62.2 199.4,54.7 200,49.9 200.6,47.6 201.2,45.1 202,42.5 202.7,39.8 203.6,36.9 204.5,33.6 205.3,29.7 206.2,25.3 207,20.4 207.8,16.7 208.6,14 209.3,12.4 210.6,11.5 211.5,14.4 212.1,17.3 212.5,21.4 212.9,26.9 213.4,33.8 213.8,40 214.3,45.6 214.7,50.6 215.1,54.9 215.6,58.3 216.4,60.9 217.2,62.6 218.3,63.5 219.8,64.1 221.9,64.4 224.6,64.4 227.7,64.1 231.1,63.9 234.7,63.8 238.5,63.9 242.5,64.1 246.9,64.1 251.8,64 257.1,63.8 262.9,63.5 267.4,62.9 270.6,62.1 272.7,60.7 274.2,57.9 275.9,61.1 277.2,62.7 278.8,63.7 280.7,64.5 283,65.1 284.8,65 286.1,64.3 287.1,62.4 288,57.9 289.9,74 291.8,68.2 293.6,65.2 295.9,63.2 298.9,61.5 302.6,60.1 305.6,58.8 307.7,57.6 309.2,56.4 310.5,54.5 311.8,58.3 313.3,60.2 315.3,61.2 318,62 321.4,62.4 324.4,62.3 326.8,61.9 329.1,60.7 332.3,57.9 334.3,60.7 335.7,62.2 337.3,63.2 339.2,64.1 341.5,64.8 343.4,65 344.7,64.5 345.7,62.9 346.6,59.1 348.4,72.8 350.1,67 351.7,64.1 353.7,62.3 356.3,60.8 359.6,59.6 362.2,58.7 364.1,57.9 365.5,57.2 366.8,56.3 368.1,59.5 369.7,61 372.2,61.9 375.5,62.4 379.9,62.6 383.3,62.4 385.9,61.9 387.8,60.5 389.8,57.4 391.7,60.3 393.1,61.7 394.7,62.6 396.6,63.4 398.9,63.9 400.8,63.8 402.1,62.8 403.1,60.6 404,55.1 405.8,75.1 407.5,68 408.9,64.6 410.4,62.4 413,60.5 418.5,57.9" fill="none" stroke="#3a3a3a" stroke-width="1.3" stroke-linejoin="round" stroke-linecap="round"/><rect x="1.65" y="1.65" width="418.6" height="120.1" fill="none" stroke="#000" stroke-width="3.3"/></svg>
<i class="dot" style="left:1299.59px;top:601.36px;width:5.83px;height:5.83px"></i>
<i class="dot" style="left:1299.59px;top:622.16px;width:5.83px;height:5.83px"></i>
<i class="dot" style="left:1299.59px;top:643.06px;width:5.83px;height:5.83px"></i>
<i class="dot" style="left:1299.59px;top:663.96px;width:5.83px;height:5.83px"></i>
<p class="t sl" style="left:1317.6px;top:596.06px;font-size:16.6px;transform:scaleX(1.0559);">Electrolyte or acid-base disorders</p>
<p class="t sl" style="left:1317.6px;top:616.86px;font-size:16.6px;transform:scaleX(1.0766);">Anesthetic agent and some medications</p>
<p class="t sl" style="left:1317.6px;top:637.76px;font-size:16.6px;transform:scaleX(1.0451);">Hypoxia</p>
<p class="t sl" style="left:1317.6px;top:658.66px;font-size:16.6px;transform:scaleX(1.0581);">Hypercarbia</p>
<i class="dot" style="left:1466.69px;top:643.06px;width:5.83px;height:5.83px"></i>
<i class="dot" style="left:1466.69px;top:663.96px;width:5.83px;height:5.83px"></i>
<p class="t sl" style="left:1484.6px;top:637.76px;font-size:16.6px;transform:scaleX(1.0807);">Hypothermia</p>
<p class="t sl" style="left:1484.6px;top:658.66px;font-size:16.6px;transform:scaleX(1.0814);">Tracheal intubation</p>
<i class="ar" style="left:1288.7px;top:685.3px;width:22.9px;height:17.2px"></i>
<p class="t sB" style="left:1319.2px;top:685.16px;font-size:16.6px;transform:scaleX(0.9907);">Lidocaine bolus +/- CRI when complexes are</p>
<p class="t sB" style="left:1319.2px;top:705.86px;font-size:16.6px;transform:scaleX(0.9828);">multiform (vs uniform), causing</p>
<p class="t sB" style="left:1319.2px;top:726.46px;font-size:16.6px;transform:scaleX(0.9818);">hypotension, or if significant runs present</p>
<h3 class="t sM" style="left:1059.6px;top:766.31px;font-size:18.9px;transform:scaleX(1.0984);">Bradycardia with Ventricular Escape Beat</h3>
<svg class="ecg" style="left:1056.9px;top:795px" width="430.2" height="124.1" viewBox="0 0 430.2 124.1"><defs><pattern id="g1851m" width="3.31" height="4.16" patternUnits="userSpaceOnUse" x="8.95" y="1.82"><rect x="1.1" y="1.53" width="1.1" height="1.1" fill="#b4b4b4"/></pattern><pattern id="g1851M" width="16.55" height="20.8" patternUnits="userSpaceOnUse" x="10.6" y="3.9"><path d="M0 0V20.8 M0 0H16.55" stroke="#8e8e8e" stroke-width="1.2" fill="none"/></pattern></defs><rect width="430.2" height="124.1" fill="#fbfbfb"/><rect width="430.2" height="124.1" fill="url(#g1851m)"/><rect width="430.2" height="124.1" fill="url(#g1851M)"/><polyline points="3.3,81 9.8,81 12.8,80 14.5,77.9 15.5,74.7 15.8,70.6 16.2,65.8 16.5,60.4 16.8,52.9 17.4,38.2 18,52.9 18.3,61.1 18.5,67.7 18.9,76.1 19.4,91.2 20,86.2 20.6,83.9 21.5,82.7 22.6,82 24,81.9 27.3,81.7 32.3,81.5 39.2,81.2 47.8,81 56.3,80.9 64.4,80.9 72.3,81 80,81.2 86.2,81.4 90.9,81.4 94.1,81.2 95.9,81 97.4,79.3 98.4,76.1 99.1,71.4 99.5,65.3 99.8,59.5 100.1,54 100.5,47.6 101.1,36.7 101.6,49.9 102,57.8 102.2,64.7 102.6,74.2 103.3,92.2 104.1,86.3 105.2,83.6 106.7,82.2 108.9,81.4 111.7,81.2 115.6,81.1 120.6,81 126.7,80.9 133.8,80.8 141.2,80.7 148.9,80.8 156.8,80.8 164.9,81 172,81 177.8,80.9 182.5,80.7 186.1,80.3 189.2,80.2 191.7,80.2 193.8,80.3 195.3,80.7 198.2,80.9 202.6,80.9 208.3,80.8 215.4,80.6 222.1,80.4 228.2,80.4 233.8,80.5 238.9,80.7 242.9,79.8 245.8,77.8 247.5,74.7 248.1,70.6 248.7,64.7 249.4,57.3 250,48.2 250.7,37.5 251.3,29.2 251.9,23.2 252.6,19.4 253.7,16.7 254.9,20.5 255.5,24.8 256,30.7 256.5,38.8 257,49 257.5,58.2 258,66.3 258.6,73.5 259.1,79.6 259.9,84.8 261,89.2 262.5,92.6 264.3,95.2 266,97.6 267.7,99.9 269.7,102.7 273.1,107.6 274.8,105 275.8,102.9 276.7,100.3 277.7,96.9 278.7,92.9 279.7,89.2 280.8,86 281.8,83.3 282.8,81 284,79.2 285.4,77.9 287,77 288.8,76.7 290.9,76.5 293.3,76.6 296.1,76.9 299.1,77.4 301.8,78 304.1,78.7 306,79.5 307.5,80.3 310,81 313.3,81.4 317.5,81.6 322.6,81.6 328.1,81.6 333.9,81.6 340.2,81.6 346.8,81.6 351.9,80 355.4,76.8 357.4,72.1 357.8,65.7 358.2,59.4 358.5,53.1 358.9,45.4 359.4,31.6 359.9,45.4 360.2,53.8 360.4,61.5 360.8,72.2 361.5,92.9 362.3,86.9 363.8,84.2 366.3,82.9 369.8,82.2 374.4,82.2 378.7,82.1 382.8,81.9 386.6,81.6 390.2,81.2 393.2,80.8 395.6,80.4 397.5,80 398.7,79.6 400,79.5 401.3,79.6 402.6,80 403.8,80.6 406.1,81.1 409.5,81.5 415.1,81.6 427.2,81.6" fill="none" stroke="#2a2a2a" stroke-width="1.4" stroke-linejoin="round" stroke-linecap="round"/><rect x="1.65" y="1.65" width="426.9" height="120.8" fill="none" stroke="#000" stroke-width="3.3"/></svg>
<i class="dot" style="left:1063.52px;top:933.85px;width:6.37px;height:6.37px"></i>
<i class="dot" style="left:1063.52px;top:956.85px;width:6.37px;height:6.37px"></i>
<p class="t sO" style="left:1083.1px;top:926.9px;font-size:19.5px;transform:scaleX(1.0685);">Find and treat cause of bradycardia</p>
<p class="t sO" style="left:1083.1px;top:949.9px;font-size:19.5px;transform:scaleX(1.0805);">Give atropine/glycopyrrolate</p>
<h3 class="t sM" style="left:1548.1px;top:766.31px;font-size:18.9px;transform:scaleX(1.1086);">Atrial Premature Contraction (APC)</h3>
<svg class="ecg" style="left:1516.4px;top:795px" width="428.6" height="123.9" viewBox="0 0 428.6 123.9"><defs><pattern id="g2311m" width="4.56" height="4.44" patternUnits="userSpaceOnUse" x="13.77" y="-2.32"><rect x="1.68" y="1.62" width="1.2" height="1.2" fill="#b0b0b0"/></pattern><pattern id="g2311M" width="22.8" height="22.2" patternUnits="userSpaceOnUse" x="16.05" y="-0.1"><path d="M0 0V22.2 M0 0H22.8" stroke="#a0a0a0" stroke-width="1" stroke-dasharray="1.2 1.08" fill="none"/></pattern></defs><rect width="428.6" height="123.9" fill="#fbfbfb"/><rect width="428.6" height="123.9" fill="url(#g2311m)"/><rect width="428.6" height="123.9" fill="url(#g2311M)"/><polyline points="3.1,77.6 5.4,71.8 6.6,69 7.5,67.2 8.5,65.6 10.2,63.3 11.4,67.3 12.1,69.8 12.7,72.2 13.4,74.8 14.2,77.8 15,80.1 15.9,81.8 16.9,82.8 17.9,83.1 20.7,83.4 25.3,83.6 31.7,83.7 39.8,83.7 46.1,83.4 50.6,82.9 53.2,82.1 54,81.1 54.7,80.2 55.3,79.5 56,78.7 57.2,77.6 58.3,79.3 59,80.3 59.7,81.3 60.7,82.6 62.7,85.1 63.8,73.4 64.4,65.6 64.8,57.7 65.3,46 65.9,22.4 66.5,46 66.9,57.7 67.2,65.5 67.6,73.2 68.4,84.7 70.7,84.1 72.1,83.4 73.4,82.4 74.8,81 76.3,79.2 77.7,77.2 79,75.1 80.1,72.7 81.2,70.2 82.1,68 82.9,66.4 83.8,65 85.1,63.3 86.3,67.3 87,69.8 87.7,72.1 88.4,74.6 89.2,77.4 90.1,79.6 91.1,81.2 92.1,82.2 93.2,82.5 96,82.8 100.4,83 106.4,83.1 114.1,83.1 120,82.8 124.2,82.4 126.7,81.8 127.5,80.9 128.2,80.1 128.8,79.4 129.5,78.7 130.6,77.6 131.8,79.3 132.5,80.3 133.2,81.2 134.2,82.4 136.2,84.7 137.6,70.9 138.4,62.4 138.9,54.5 139.3,43.2 140,21.4 140.6,43.2 140.9,54.4 141.3,62.2 141.6,69 141.9,74.9 142.4,79.3 143,82.4 143.8,84.1 144.6,84.3 145.7,84 146.9,83.1 148.2,81.6 149.8,79.6 151.2,77.4 152.5,75.1 153.6,72.7 154.6,70.2 155.6,68 156.5,66.2 157.5,64.5 159.2,62.2 160.6,66.8 161.4,69.5 162,71.8 162.7,74.2 163.3,76.8 164.1,78.8 164.9,80.4 165.8,81.4 166.9,81.9 169.2,82.3 172.7,82.5 177.6,82.7 183.7,82.7 188.5,82.4 191.9,82 194,81.3 194.8,80.4 195.5,79.6 196.1,78.9 196.7,78.4 197.2,78.1 197.7,78 198.2,78.2 198.8,78.7 199.3,79.5 199.9,80.3 200.7,81.2 201.8,82.4 204.1,84.7 205.3,70.9 205.8,62.6 206.3,55 206.7,44.6 207.4,24.5 207.9,44.6 208.3,54.9 208.6,62.3 208.9,68.8 209.3,74.5 209.8,78.8 210.4,81.7 211.1,83.3 212,83.4 213,83 214.2,81.9 215.6,80.2 217.1,77.9 218.5,75.6 219.8,73.3 220.9,71 222,68.7 222.9,66.8 223.8,65.3 224.8,64 226.6,62.2 227.7,66.8 228.4,69.6 229,72 229.7,74.6 230.5,77.4 231.3,79.6 232.2,81.1 233.2,82 234.2,82.3 236.5,82.5 240.1,82.6 244.9,82.7 251,82.7 255.9,82.4 259.5,81.9 261.8,81.1 262.8,80.1 263.7,79.2 264.5,78.5 265.2,78 265.8,77.6 266.4,77.5 267,77.7 267.5,78.3 268,79.2 268.7,80.2 269.6,81.1 270.9,82.4 273.5,84.7 274.6,70.9 275.2,62.4 275.6,54.5 276.1,43.2 276.8,21.4 277.3,43.2 277.7,54.3 278,62 278.3,68.6 278.7,74.2 279.2,78.5 279.8,81.4 280.5,83 281.4,83.3 282.4,82.9 283.6,81.9 285,80.2 286.5,77.9 288,75.5 289.4,73 290.7,70.3 292,67.5 293.1,65.2 294.1,63.6 295.1,62.4 296.6,61.2 297.7,66.4 298.3,69.1 298.7,71.2 299.1,73.1 299.5,74.9 299.9,76.3 300.3,77.3 300.8,77.9 301.3,78.2 301.8,78.3 302.3,78.3 302.8,78.2 303.3,77.9 303.9,78.1 304.6,78.8 305.4,80.2 307.2,83.7 308.9,82 309.7,79.7 310.3,76.2 310.8,71.4 311.1,65.3 311.5,58.9 311.8,52.1 312.1,43.2 312.7,26.5 313.3,43.2 313.6,52.2 313.9,59.2 314.3,66.1 314.7,72.7 315.2,77.7 315.8,81.2 316.5,83 317.2,83.3 318.1,83 319.2,82.3 320.3,81 321.6,79.2 322.8,77.3 323.9,75.3 325,73.1 326,70.8 327,69 327.8,67.7 328.7,66.7 330,65.9 331.2,69.6 331.9,71.8 332.4,73.8 333.1,75.9 333.7,78.2 334.5,80 335.3,81.3 336.3,82.2 337.3,82.5 340.8,82.8 346.8,82.9 355.3,82.9 366.2,82.8 374.7,82.4 380.7,81.7 384.2,80.7 385.2,79.5 386.1,78.4 386.9,77.7 387.5,77.2 388,76.9 388.5,77 389.1,77.4 389.6,78.1 390.1,79.1 390.7,80 391.3,80.9 392.2,82 393.9,83.7 395.1,70.5 395.6,62.6 396,55.7 396.4,46.4 397,28.6 397.5,46.4 397.9,55.7 398.2,62.4 398.5,68.6 398.9,74.2 399.4,78.5 400,81.6 400.8,83.3 401.7,83.7 402.8,83.5 404,82.7 405.4,81.4 406.9,79.4 408.4,77.2 410,74.7 411.5,71.9 413,68.9 414.3,66.4 415.4,64.5 416.4,62.9 417.8,61.2 418.9,66.4 419.6,69.3 420.2,71.7 420.8,74.2 421.5,76.8 422.1,78.8 422.8,80.2 423.5,81.1 424.9,81.6" fill="none" stroke="#5a5a5a" stroke-width="1.5" stroke-linejoin="round" stroke-linecap="round"/><rect x="1.65" y="1.65" width="425.3" height="120.6" fill="none" stroke="#000" stroke-width="3.3"/></svg>
<i class="dot" style="left:1531.02px;top:933.45px;width:6.37px;height:6.37px"></i>
<p class="t sO" style="left:1550.5px;top:926.5px;font-size:19.5px;transform:scaleX(1.0802);">Does not require treatment if BP is not</p>
<p class="t sO" style="left:1550.5px;top:950.9px;font-size:19.5px;transform:scaleX(1.0677);">compromised. R/O heart/lung disease</p>
<h3 class="t sM" style="left:1392.5px;top:991.91px;font-size:18.9px;transform:scaleX(1.1024);">2nd Degree AV Block</h3>
<svg class="ecg" style="left:1288.9px;top:1020px" width="425.9" height="121.8" viewBox="0 0 425.9 121.8"><defs><pattern id="g2308m" width="3.41" height="3.41" patternUnits="userSpaceOnUse" x="-0.77" y="2"><path d="M0 0H3.41 M0 0V3.41" stroke="#bcbcbc" stroke-width="1" fill="none"/></pattern><pattern id="g2308M" width="17.07" height="17.07" patternUnits="userSpaceOnUse" x="-0.77" y="2"><path d="M0 0V17.07 M0 0H17.07" stroke="#9a9a9a" stroke-width="1.4" fill="none"/></pattern></defs><rect width="425.9" height="121.8" fill="#f6f6f6"/><rect width="425.9" height="121.8" fill="url(#g2308m)"/><rect width="425.9" height="121.8" fill="url(#g2308M)"/><polyline points="2.8,80.8 5.1,78.6 6.3,77.5 7.1,76.8 7.8,76.2 8.4,75.7 9,75.6 9.7,75.9 10.3,76.6 11,77.6 12.1,78.4 13.6,79.1 15.4,79.4 17.6,79.6 20.1,79.7 23,79.6 26.2,79.4 29.7,79.2 32.4,80.1 34.3,82.4 35.5,87.1 36.3,97.8 37.1,73.6 37.5,60.5 38,50.5 38.5,38.5 39.6,17.5 40.6,38.5 41.2,48.9 41.6,55.9 42,61.7 42.4,66.4 43,70.1 43.6,73 44.4,74.9 45.2,76 46.3,76.7 47.6,77.2 49.2,77.3 50.9,77.1 52.6,76.7 54.2,76.2 55.7,75.4 57.2,74.4 58.5,73.6 59.6,73 60.6,72.6 61.5,72.5 62.4,72.6 63.3,73.1 64.1,73.9 65,75.1 65.9,76.1 66.8,77 67.6,77.8 68.5,78.5 70.5,78.9 73.5,79.3 77.7,79.4 82.9,79.4 88.9,79.4 95.8,79.2 103.4,79.1 111.9,78.8 118.4,78.4 122.9,77.7 125.6,76.7 126.3,75.6 126.9,74.6 127.5,73.8 128.1,73.1 129.2,72.2 130.5,74.8 131.3,76.1 132,76.8 132.8,77.3 133.7,77.6 135.9,77.8 139.6,77.9 144.6,78 151,78 158.7,78.1 167.7,78.2 178,78.4 189.7,78.6 201.3,78.8 213,78.9 224.6,79 236.2,79 245.1,78.7 251.2,78.3 254.6,77.7 255.1,76.9 255.7,76.2 256.2,75.7 256.7,75.3 257.2,75 257.7,75 258.2,75.3 258.8,76 259.3,77 261,77.8 263.6,78.5 267.4,79 272.1,79.4 275.8,80.9 278.5,83.7 280.1,89 281.2,100.8 281.9,77.5 282.4,64.9 282.8,55.2 283.4,43.6 284.4,23.3 285.5,43.6 286,53.6 286.5,60 286.9,65.1 287.3,68.9 287.8,71.9 288.4,74.3 289,76 289.8,77 290.8,77.7 292.1,78.1 293.6,78.1 295.3,77.9 297,77.5 298.8,76.9 300.5,76.2 302.3,75.2 303.8,74.5 305.1,74 306.2,73.7 307.1,73.5 308,73.7 308.8,74.2 309.7,74.9 310.6,76 311.5,76.8 312.5,77.5 313.6,78 314.8,78.3 317.6,78.5 321.9,78.6 327.9,78.7 335.5,78.7 342.4,78.7 348.8,78.7 354.7,78.6 359.9,78.6 364,78.3 366.9,77.9 368.6,77.3 369.2,76.4 369.8,75.8 370.3,75.2 370.8,74.8 371.2,74.5 371.7,74.5 372.3,74.9 372.8,75.5 373.4,76.5 374.9,77.3 377.5,77.8 381,78 385.5,78 388.9,79.3 391.4,81.9 392.9,87.2 393.8,99 394.6,74.1 395.1,60.8 395.4,50.7 395.9,39 396.8,18.7 397.8,39 398.3,49.1 398.7,56 399.2,61.7 399.6,66.4 400.2,70.1 400.9,73 401.6,74.9 402.5,76 403.6,76.7 404.9,77.2 406.4,77.3 408.2,77.1 409.9,76.7 411.5,76.2 413,75.4 414.4,74.4 415.8,73.6 416.9,72.9 417.9,72.4 418.8,72 419.7,72 420.5,72.4 421.4,73.3 423.1,75.7" fill="none" stroke="#0a0a0a" stroke-width="2.5" stroke-linejoin="round" stroke-linecap="round"/><rect x="1.8" y="1.8" width="422.3" height="118.2" fill="none" stroke="#000" stroke-width="3.6"/></svg>
<i class="dot" style="left:1297.03px;top:1155.9px;width:6.13px;height:6.13px"></i>
<i class="dot" style="left:1297.03px;top:1201px;width:6.13px;height:6.13px"></i>
<p class="t sl" style="left:1316.3px;top:1150.29px;font-size:17.5px;transform:scaleX(1.0708);">Increased vagal tone or when opioids and</p>
<p class="t sl" style="left:1316.3px;top:1172.79px;font-size:17.5px;transform:scaleX(1.0608);">alpha-2 agonists are given</p>
<p class="t sl" style="left:1316.3px;top:1195.39px;font-size:17.5px;transform:scaleX(1.0801);">Brachycephalic or athletic dogs</p>
<p class="t sB" style="left:1319.1px;top:1223.6px;font-size:17.5px;transform:scaleX(0.9992);">If hypotensive and/or bradycardic</p>
<p class="t sB" style="left:1319.1px;top:1248.49px;font-size:17.5px;transform:scaleX(0.9840);">Reverse alpha-2 agonist if given</p>
<p class="t sB" style="left:1319.1px;top:1273.39px;font-size:17.5px;transform:scaleX(0.9979);">Give atropine/glycopyrrolate</p>
<i class="ar" style="left:1288.4px;top:1248.4px;width:23.8px;height:17.2px"></i>
<i class="ar" style="left:1288.4px;top:1273.3px;width:23.8px;height:17.2px"></i>
</section>
<section class="deco">
<svg class="paw" style="left:130.55px;top:89.5px" width="37.5" height="33" viewBox="0 0 37.5 33" fill="#000"><ellipse cx="13.3" cy="7.2" rx="4.6" ry="6.9"/><ellipse cx="23.8" cy="7.2" rx="4.6" ry="6.9"/><ellipse cx="4.8" cy="17.3" rx="4.5" ry="6.7" transform="rotate(-8 4.8 17.3)"/><ellipse cx="32.7" cy="17.3" rx="4.5" ry="6.7" transform="rotate(8 32.7 17.3)"/><path d="M18.700 19.200L28.800 29.800H8.600Z" stroke="#000" stroke-width="5.800" stroke-linejoin="round"/></svg>
<svg class="paw" style="left:130.55px;top:185.95px" width="37.5" height="33" viewBox="0 0 37.5 33" fill="#000"><ellipse cx="13.3" cy="7.2" rx="4.6" ry="6.9"/><ellipse cx="23.8" cy="7.2" rx="4.6" ry="6.9"/><ellipse cx="4.8" cy="17.3" rx="4.5" ry="6.7" transform="rotate(-8 4.8 17.3)"/><ellipse cx="32.7" cy="17.3" rx="4.5" ry="6.7" transform="rotate(8 32.7 17.3)"/><path d="M18.700 19.200L28.800 29.800H8.600Z" stroke="#000" stroke-width="5.800" stroke-linejoin="round"/></svg>
<svg class="paw" style="left:130.55px;top:282.4px" width="37.5" height="33" viewBox="0 0 37.5 33" fill="#000"><ellipse cx="13.3" cy="7.2" rx="4.6" ry="6.9"/><ellipse cx="23.8" cy="7.2" rx="4.6" ry="6.9"/><ellipse cx="4.8" cy="17.3" rx="4.5" ry="6.7" transform="rotate(-8 4.8 17.3)"/><ellipse cx="32.7" cy="17.3" rx="4.5" ry="6.7" transform="rotate(8 32.7 17.3)"/><path d="M18.700 19.200L28.800 29.800H8.600Z" stroke="#000" stroke-width="5.800" stroke-linejoin="round"/></svg>
<svg class="paw" style="left:130.55px;top:378.85px" width="37.5" height="33" viewBox="0 0 37.5 33" fill="#000"><ellipse cx="13.3" cy="7.2" rx="4.6" ry="6.9"/><ellipse cx="23.8" cy="7.2" rx="4.6" ry="6.9"/><ellipse cx="4.8" cy="17.3" rx="4.5" ry="6.7" transform="rotate(-8 4.8 17.3)"/><ellipse cx="32.7" cy="17.3" rx="4.5" ry="6.7" transform="rotate(8 32.7 17.3)"/><path d="M18.700 19.200L28.800 29.800H8.600Z" stroke="#000" stroke-width="5.800" stroke-linejoin="round"/></svg>
<svg class="paw" style="left:130.55px;top:475.3px" width="37.5" height="33" viewBox="0 0 37.5 33" fill="#000"><ellipse cx="13.3" cy="7.2" rx="4.6" ry="6.9"/><ellipse cx="23.8" cy="7.2" rx="4.6" ry="6.9"/><ellipse cx="4.8" cy="17.3" rx="4.5" ry="6.7" transform="rotate(-8 4.8 17.3)"/><ellipse cx="32.7" cy="17.3" rx="4.5" ry="6.7" transform="rotate(8 32.7 17.3)"/><path d="M18.700 19.200L28.800 29.800H8.600Z" stroke="#000" stroke-width="5.800" stroke-linejoin="round"/></svg>
<svg class="paw" style="left:130.55px;top:571.75px" width="37.5" height="33" viewBox="0 0 37.5 33" fill="#000"><ellipse cx="13.3" cy="7.2" rx="4.6" ry="6.9"/><ellipse cx="23.8" cy="7.2" rx="4.6" ry="6.9"/><ellipse cx="4.8" cy="17.3" rx="4.5" ry="6.7" transform="rotate(-8 4.8 17.3)"/><ellipse cx="32.7" cy="17.3" rx="4.5" ry="6.7" transform="rotate(8 32.7 17.3)"/><path d="M18.700 19.200L28.800 29.800H8.600Z" stroke="#000" stroke-width="5.800" stroke-linejoin="round"/></svg>
<svg class="paw" style="left:130.55px;top:668.2px" width="37.5" height="33" viewBox="0 0 37.5 33" fill="#000"><ellipse cx="13.3" cy="7.2" rx="4.6" ry="6.9"/><ellipse cx="23.8" cy="7.2" rx="4.6" ry="6.9"/><ellipse cx="4.8" cy="17.3" rx="4.5" ry="6.7" transform="rotate(-8 4.8 17.3)"/><ellipse cx="32.7" cy="17.3" rx="4.5" ry="6.7" transform="rotate(8 32.7 17.3)"/><path d="M18.700 19.200L28.800 29.800H8.600Z" stroke="#000" stroke-width="5.800" stroke-linejoin="round"/></svg>
<svg class="paw" style="left:130.55px;top:764.65px" width="37.5" height="33" viewBox="0 0 37.5 33" fill="#000"><ellipse cx="13.3" cy="7.2" rx="4.6" ry="6.9"/><ellipse cx="23.8" cy="7.2" rx="4.6" ry="6.9"/><ellipse cx="4.8" cy="17.3" rx="4.5" ry="6.7" transform="rotate(-8 4.8 17.3)"/><ellipse cx="32.7" cy="17.3" rx="4.5" ry="6.7" transform="rotate(8 32.7 17.3)"/><path d="M18.700 19.200L28.800 29.800H8.600Z" stroke="#000" stroke-width="5.800" stroke-linejoin="round"/></svg>
<svg class="paw" style="left:130.55px;top:861.1px" width="37.5" height="33" viewBox="0 0 37.5 33" fill="#000"><ellipse cx="13.3" cy="7.2" rx="4.6" ry="6.9"/><ellipse cx="23.8" cy="7.2" rx="4.6" ry="6.9"/><ellipse cx="4.8" cy="17.3" rx="4.5" ry="6.7" transform="rotate(-8 4.8 17.3)"/><ellipse cx="32.7" cy="17.3" rx="4.5" ry="6.7" transform="rotate(8 32.7 17.3)"/><path d="M18.700 19.200L28.800 29.800H8.600Z" stroke="#000" stroke-width="5.800" stroke-linejoin="round"/></svg>
<svg class="paw" style="left:83.95px;top:132.3px" width="37.5" height="33" viewBox="0 0 37.5 33" fill="#000"><ellipse cx="13.3" cy="7.2" rx="4.6" ry="6.9"/><ellipse cx="23.8" cy="7.2" rx="4.6" ry="6.9"/><ellipse cx="4.8" cy="17.3" rx="4.5" ry="6.7" transform="rotate(-8 4.8 17.3)"/><ellipse cx="32.7" cy="17.3" rx="4.5" ry="6.7" transform="rotate(8 32.7 17.3)"/><path d="M18.700 19.200L28.800 29.800H8.600Z" stroke="#000" stroke-width="5.800" stroke-linejoin="round"/></svg>
<svg class="paw" style="left:83.95px;top:228.75px" width="37.5" height="33" viewBox="0 0 37.5 33" fill="#000"><ellipse cx="13.3" cy="7.2" rx="4.6" ry="6.9"/><ellipse cx="23.8" cy="7.2" rx="4.6" ry="6.9"/><ellipse cx="4.8" cy="17.3" rx="4.5" ry="6.7" transform="rotate(-8 4.8 17.3)"/><ellipse cx="32.7" cy="17.3" rx="4.5" ry="6.7" transform="rotate(8 32.7 17.3)"/><path d="M18.700 19.200L28.800 29.800H8.600Z" stroke="#000" stroke-width="5.800" stroke-linejoin="round"/></svg>
<svg class="paw" style="left:83.95px;top:325.2px" width="37.5" height="33" viewBox="0 0 37.5 33" fill="#000"><ellipse cx="13.3" cy="7.2" rx="4.6" ry="6.9"/><ellipse cx="23.8" cy="7.2" rx="4.6" ry="6.9"/><ellipse cx="4.8" cy="17.3" rx="4.5" ry="6.7" transform="rotate(-8 4.8 17.3)"/><ellipse cx="32.7" cy="17.3" rx="4.5" ry="6.7" transform="rotate(8 32.7 17.3)"/><path d="M18.700 19.200L28.800 29.800H8.600Z" stroke="#000" stroke-width="5.800" stroke-linejoin="round"/></svg>
<svg class="paw" style="left:83.95px;top:421.65px" width="37.5" height="33" viewBox="0 0 37.5 33" fill="#000"><ellipse cx="13.3" cy="7.2" rx="4.6" ry="6.9"/><ellipse cx="23.8" cy="7.2" rx="4.6" ry="6.9"/><ellipse cx="4.8" cy="17.3" rx="4.5" ry="6.7" transform="rotate(-8 4.8 17.3)"/><ellipse cx="32.7" cy="17.3" rx="4.5" ry="6.7" transform="rotate(8 32.7 17.3)"/><path d="M18.700 19.200L28.800 29.800H8.600Z" stroke="#000" stroke-width="5.800" stroke-linejoin="round"/></svg>
<svg class="paw" style="left:83.95px;top:518.1px" width="37.5" height="33" viewBox="0 0 37.5 33" fill="#000"><ellipse cx="13.3" cy="7.2" rx="4.6" ry="6.9"/><ellipse cx="23.8" cy="7.2" rx="4.6" ry="6.9"/><ellipse cx="4.8" cy="17.3" rx="4.5" ry="6.7" transform="rotate(-8 4.8 17.3)"/><ellipse cx="32.7" cy="17.3" rx="4.5" ry="6.7" transform="rotate(8 32.7 17.3)"/><path d="M18.700 19.200L28.800 29.800H8.600Z" stroke="#000" stroke-width="5.800" stroke-linejoin="round"/></svg>
<svg class="paw" style="left:83.95px;top:614.55px" width="37.5" height="33" viewBox="0 0 37.5 33" fill="#000"><ellipse cx="13.3" cy="7.2" rx="4.6" ry="6.9"/><ellipse cx="23.8" cy="7.2" rx="4.6" ry="6.9"/><ellipse cx="4.8" cy="17.3" rx="4.5" ry="6.7" transform="rotate(-8 4.8 17.3)"/><ellipse cx="32.7" cy="17.3" rx="4.5" ry="6.7" transform="rotate(8 32.7 17.3)"/><path d="M18.700 19.200L28.800 29.800H8.600Z" stroke="#000" stroke-width="5.800" stroke-linejoin="round"/></svg>
<svg class="paw" style="left:83.95px;top:711px" width="37.5" height="33" viewBox="0 0 37.5 33" fill="#000"><ellipse cx="13.3" cy="7.2" rx="4.6" ry="6.9"/><ellipse cx="23.8" cy="7.2" rx="4.6" ry="6.9"/><ellipse cx="4.8" cy="17.3" rx="4.5" ry="6.7" transform="rotate(-8 4.8 17.3)"/><ellipse cx="32.7" cy="17.3" rx="4.5" ry="6.7" transform="rotate(8 32.7 17.3)"/><path d="M18.700 19.200L28.800 29.800H8.600Z" stroke="#000" stroke-width="5.800" stroke-linejoin="round"/></svg>
<svg class="paw" style="left:83.95px;top:807.45px" width="37.5" height="33" viewBox="0 0 37.5 33" fill="#000"><ellipse cx="13.3" cy="7.2" rx="4.6" ry="6.9"/><ellipse cx="23.8" cy="7.2" rx="4.6" ry="6.9"/><ellipse cx="4.8" cy="17.3" rx="4.5" ry="6.7" transform="rotate(-8 4.8 17.3)"/><ellipse cx="32.7" cy="17.3" rx="4.5" ry="6.7" transform="rotate(8 32.7 17.3)"/><path d="M18.700 19.200L28.800 29.800H8.600Z" stroke="#000" stroke-width="5.800" stroke-linejoin="round"/></svg>
<svg class="paw" style="left:2821.85px;top:1107.9px;transform:rotate(180deg)" width="37.5" height="33" viewBox="0 0 37.5 33" fill="#000"><ellipse cx="13.3" cy="7.2" rx="4.6" ry="6.9"/><ellipse cx="23.8" cy="7.2" rx="4.6" ry="6.9"/><ellipse cx="4.8" cy="17.3" rx="4.5" ry="6.7" transform="rotate(-8 4.8 17.3)"/><ellipse cx="32.7" cy="17.3" rx="4.5" ry="6.7" transform="rotate(8 32.7 17.3)"/><path d="M18.700 19.200L28.800 29.800H8.600Z" stroke="#000" stroke-width="5.800" stroke-linejoin="round"/></svg>
<svg class="paw" style="left:2821.85px;top:1204.4px;transform:rotate(180deg)" width="37.5" height="33" viewBox="0 0 37.5 33" fill="#000"><ellipse cx="13.3" cy="7.2" rx="4.6" ry="6.9"/><ellipse cx="23.8" cy="7.2" rx="4.6" ry="6.9"/><ellipse cx="4.8" cy="17.3" rx="4.5" ry="6.7" transform="rotate(-8 4.8 17.3)"/><ellipse cx="32.7" cy="17.3" rx="4.5" ry="6.7" transform="rotate(8 32.7 17.3)"/><path d="M18.700 19.200L28.800 29.800H8.600Z" stroke="#000" stroke-width="5.800" stroke-linejoin="round"/></svg>
<svg class="paw" style="left:2821.85px;top:1300.9px;transform:rotate(180deg)" width="37.5" height="33" viewBox="0 0 37.5 33" fill="#000"><ellipse cx="13.3" cy="7.2" rx="4.6" ry="6.9"/><ellipse cx="23.8" cy="7.2" rx="4.6" ry="6.9"/><ellipse cx="4.8" cy="17.3" rx="4.5" ry="6.7" transform="rotate(-8 4.8 17.3)"/><ellipse cx="32.7" cy="17.3" rx="4.5" ry="6.7" transform="rotate(8 32.7 17.3)"/><path d="M18.700 19.200L28.800 29.800H8.600Z" stroke="#000" stroke-width="5.800" stroke-linejoin="round"/></svg>
<svg class="paw" style="left:2821.85px;top:1397.4px;transform:rotate(180deg)" width="37.5" height="33" viewBox="0 0 37.5 33" fill="#000"><ellipse cx="13.3" cy="7.2" rx="4.6" ry="6.9"/><ellipse cx="23.8" cy="7.2" rx="4.6" ry="6.9"/><ellipse cx="4.8" cy="17.3" rx="4.5" ry="6.7" transform="rotate(-8 4.8 17.3)"/><ellipse cx="32.7" cy="17.3" rx="4.5" ry="6.7" transform="rotate(8 32.7 17.3)"/><path d="M18.700 19.200L28.800 29.800H8.600Z" stroke="#000" stroke-width="5.800" stroke-linejoin="round"/></svg>
<svg class="paw" style="left:2821.85px;top:1493.9px;transform:rotate(180deg)" width="37.5" height="33" viewBox="0 0 37.5 33" fill="#000"><ellipse cx="13.3" cy="7.2" rx="4.6" ry="6.9"/><ellipse cx="23.8" cy="7.2" rx="4.6" ry="6.9"/><ellipse cx="4.8" cy="17.3" rx="4.5" ry="6.7" transform="rotate(-8 4.8 17.3)"/><ellipse cx="32.7" cy="17.3" rx="4.5" ry="6.7" transform="rotate(8 32.7 17.3)"/><path d="M18.700 19.200L28.800 29.800H8.600Z" stroke="#000" stroke-width="5.800" stroke-linejoin="round"/></svg>
<svg class="paw" style="left:2821.85px;top:1590.4px;transform:rotate(180deg)" width="37.5" height="33" viewBox="0 0 37.5 33" fill="#000"><ellipse cx="13.3" cy="7.2" rx="4.6" ry="6.9"/><ellipse cx="23.8" cy="7.2" rx="4.6" ry="6.9"/><ellipse cx="4.8" cy="17.3" rx="4.5" ry="6.7" transform="rotate(-8 4.8 17.3)"/><ellipse cx="32.7" cy="17.3" rx="4.5" ry="6.7" transform="rotate(8 32.7 17.3)"/><path d="M18.700 19.200L28.800 29.800H8.600Z" stroke="#000" stroke-width="5.800" stroke-linejoin="round"/></svg>
<svg class="paw" style="left:2821.85px;top:1686.9px;transform:rotate(180deg)" width="37.5" height="33" viewBox="0 0 37.5 33" fill="#000"><ellipse cx="13.3" cy="7.2" rx="4.6" ry="6.9"/><ellipse cx="23.8" cy="7.2" rx="4.6" ry="6.9"/><ellipse cx="4.8" cy="17.3" rx="4.5" ry="6.7" transform="rotate(-8 4.8 17.3)"/><ellipse cx="32.7" cy="17.3" rx="4.5" ry="6.7" transform="rotate(8 32.7 17.3)"/><path d="M18.700 19.200L28.800 29.800H8.600Z" stroke="#000" stroke-width="5.800" stroke-linejoin="round"/></svg>
<svg class="paw" style="left:2821.85px;top:1783.4px;transform:rotate(180deg)" width="37.5" height="33" viewBox="0 0 37.5 33" fill="#000"><ellipse cx="13.3" cy="7.2" rx="4.6" ry="6.9"/><ellipse cx="23.8" cy="7.2" rx="4.6" ry="6.9"/><ellipse cx="4.8" cy="17.3" rx="4.5" ry="6.7" transform="rotate(-8 4.8 17.3)"/><ellipse cx="32.7" cy="17.3" rx="4.5" ry="6.7" transform="rotate(8 32.7 17.3)"/><path d="M18.700 19.200L28.800 29.800H8.600Z" stroke="#000" stroke-width="5.800" stroke-linejoin="round"/></svg>
<svg class="paw" style="left:2821.85px;top:1879.9px;transform:rotate(180deg)" width="37.5" height="33" viewBox="0 0 37.5 33" fill="#000"><ellipse cx="13.3" cy="7.2" rx="4.6" ry="6.9"/><ellipse cx="23.8" cy="7.2" rx="4.6" ry="6.9"/><ellipse cx="4.8" cy="17.3" rx="4.5" ry="6.7" transform="rotate(-8 4.8 17.3)"/><ellipse cx="32.7" cy="17.3" rx="4.5" ry="6.7" transform="rotate(8 32.7 17.3)"/><path d="M18.700 19.200L28.800 29.800H8.600Z" stroke="#000" stroke-width="5.800" stroke-linejoin="round"/></svg>
<svg class="paw" style="left:2868.55px;top:1162.1px;transform:rotate(180deg)" width="37.5" height="33" viewBox="0 0 37.5 33" fill="#000"><ellipse cx="13.3" cy="7.2" rx="4.6" ry="6.9"/><ellipse cx="23.8" cy="7.2" rx="4.6" ry="6.9"/><ellipse cx="4.8" cy="17.3" rx="4.5" ry="6.7" transform="rotate(-8 4.8 17.3)"/><ellipse cx="32.7" cy="17.3" rx="4.5" ry="6.7" transform="rotate(8 32.7 17.3)"/><path d="M18.700 19.200L28.800 29.800H8.600Z" stroke="#000" stroke-width="5.800" stroke-linejoin="round"/></svg>
<svg class="paw" style="left:2868.55px;top:1258.6px;transform:rotate(180deg)" width="37.5" height="33" viewBox="0 0 37.5 33" fill="#000"><ellipse cx="13.3" cy="7.2" rx="4.6" ry="6.9"/><ellipse cx="23.8" cy="7.2" rx="4.6" ry="6.9"/><ellipse cx="4.8" cy="17.3" rx="4.5" ry="6.7" transform="rotate(-8 4.8 17.3)"/><ellipse cx="32.7" cy="17.3" rx="4.5" ry="6.7" transform="rotate(8 32.7 17.3)"/><path d="M18.700 19.200L28.800 29.800H8.600Z" stroke="#000" stroke-width="5.800" stroke-linejoin="round"/></svg>
<svg class="paw" style="left:2868.55px;top:1355.1px;transform:rotate(180deg)" width="37.5" height="33" viewBox="0 0 37.5 33" fill="#000"><ellipse cx="13.3" cy="7.2" rx="4.6" ry="6.9"/><ellipse cx="23.8" cy="7.2" rx="4.6" ry="6.9"/><ellipse cx="4.8" cy="17.3" rx="4.5" ry="6.7" transform="rotate(-8 4.8 17.3)"/><ellipse cx="32.7" cy="17.3" rx="4.5" ry="6.7" transform="rotate(8 32.7 17.3)"/><path d="M18.700 19.200L28.800 29.800H8.600Z" stroke="#000" stroke-width="5.800" stroke-linejoin="round"/></svg>
<svg class="paw" style="left:2868.55px;top:1451.6px;transform:rotate(180deg)" width="37.5" height="33" viewBox="0 0 37.5 33" fill="#000"><ellipse cx="13.3" cy="7.2" rx="4.6" ry="6.9"/><ellipse cx="23.8" cy="7.2" rx="4.6" ry="6.9"/><ellipse cx="4.8" cy="17.3" rx="4.5" ry="6.7" transform="rotate(-8 4.8 17.3)"/><ellipse cx="32.7" cy="17.3" rx="4.5" ry="6.7" transform="rotate(8 32.7 17.3)"/><path d="M18.700 19.200L28.800 29.800H8.600Z" stroke="#000" stroke-width="5.800" stroke-linejoin="round"/></svg>
<svg class="paw" style="left:2868.55px;top:1548.1px;transform:rotate(180deg)" width="37.5" height="33" viewBox="0 0 37.5 33" fill="#000"><ellipse cx="13.3" cy="7.2" rx="4.6" ry="6.9"/><ellipse cx="23.8" cy="7.2" rx="4.6" ry="6.9"/><ellipse cx="4.8" cy="17.3" rx="4.5" ry="6.7" transform="rotate(-8 4.8 17.3)"/><ellipse cx="32.7" cy="17.3" rx="4.5" ry="6.7" transform="rotate(8 32.7 17.3)"/><path d="M18.700 19.200L28.800 29.800H8.600Z" stroke="#000" stroke-width="5.800" stroke-linejoin="round"/></svg>
<svg class="paw" style="left:2868.55px;top:1644.6px;transform:rotate(180deg)" width="37.5" height="33" viewBox="0 0 37.5 33" fill="#000"><ellipse cx="13.3" cy="7.2" rx="4.6" ry="6.9"/><ellipse cx="23.8" cy="7.2" rx="4.6" ry="6.9"/><ellipse cx="4.8" cy="17.3" rx="4.5" ry="6.7" transform="rotate(-8 4.8 17.3)"/><ellipse cx="32.7" cy="17.3" rx="4.5" ry="6.7" transform="rotate(8 32.7 17.3)"/><path d="M18.700 19.200L28.800 29.800H8.600Z" stroke="#000" stroke-width="5.800" stroke-linejoin="round"/></svg>
<svg class="paw" style="left:2868.55px;top:1741.1px;transform:rotate(180deg)" width="37.5" height="33" viewBox="0 0 37.5 33" fill="#000"><ellipse cx="13.3" cy="7.2" rx="4.6" ry="6.9"/><ellipse cx="23.8" cy="7.2" rx="4.6" ry="6.9"/><ellipse cx="4.8" cy="17.3" rx="4.5" ry="6.7" transform="rotate(-8 4.8 17.3)"/><ellipse cx="32.7" cy="17.3" rx="4.5" ry="6.7" transform="rotate(8 32.7 17.3)"/><path d="M18.700 19.200L28.800 29.800H8.600Z" stroke="#000" stroke-width="5.800" stroke-linejoin="round"/></svg>
<svg class="paw" style="left:2868.55px;top:1837.6px;transform:rotate(180deg)" width="37.5" height="33" viewBox="0 0 37.5 33" fill="#000"><ellipse cx="13.3" cy="7.2" rx="4.6" ry="6.9"/><ellipse cx="23.8" cy="7.2" rx="4.6" ry="6.9"/><ellipse cx="4.8" cy="17.3" rx="4.5" ry="6.7" transform="rotate(-8 4.8 17.3)"/><ellipse cx="32.7" cy="17.3" rx="4.5" ry="6.7" transform="rotate(8 32.7 17.3)"/><path d="M18.700 19.200L28.800 29.800H8.600Z" stroke="#000" stroke-width="5.800" stroke-linejoin="round"/></svg>
<svg class="ic" style="left:2800px;top:90px" width="140" height="232" viewBox="2800 90 140 232" fill="none" stroke="#fff" stroke-linecap="round" stroke-linejoin="round">
<g fill="#fff" stroke="none">
<ellipse cx="2860.1" cy="101.6" rx="13.8" ry="6"/><rect x="2850.8" y="104" width="21" height="10.3" rx="3.5"/><rect x="2858.3" y="112" width="7.5" height="13.6"/>
<path d="M2858.4 143.600h6.300l0.600 43.600h-5.800z"/>
<path d="M2826 156.200L2836.700 155.400L2838.300 160.400Z"/>
<path d="M2886.500 158.900H2903L2894.900 183L2878.800 186.800Z"/>
<path d="M2870.800 167.700L2876.900 168.100L2873.500 179.200H2871.600Z"/>
<path d="M2827.200 184L2844.600 187.600L2853.100 221.500L2838.800 221.100Z"/>
<path d="M2858.900 213.500H2863.600L2862.500 221.500H2861.200Z"/>
<path d="M2871.400 213.900L2887.100 213.200L2885.300 221.300L2870.100 221.800Z"/>
<path d="M2849.600 248.800L2875.900 248.300L2873.200 257.700L2852.700 257.200Z"/>
<path d="M2858.500 264.400L2866.100 263.900L2865.600 271.100L2858.900 272Z"/>
<path d="M2858 289.400L2864.700 288L2863.800 304.100L2866.500 307.700L2863.400 316.600L2856.700 305.900L2859 303Z"/>
<ellipse cx="2900" cy="140.300" rx="15.500" ry="8" transform="rotate(12 2900 140.300)"/>
</g>
<path fill="#fff" stroke="none" d="M2886 132.800C2876 131.500 2868 131.500 2861.200 131.700C2853 132 2845 132.300 2838.300 133.200C2832 134.500 2826 137 2821.400 139.800C2816 143 2812 146 2810 149.700C2808.500 152.500 2807.800 155 2808 157.400C2808.500 161 2810.500 164.500 2813.800 167.300C2817 170 2822 172.500 2826.800 174.200C2832 176 2837 177.500 2842.900 178.400L2852.400 179.600L2852.400 168.800L2842.900 168.100C2838 167.500 2834 166.500 2830.600 165.400C2827 164.200 2824 163 2821.400 161.200C2819 159.500 2817.300 157.500 2816.800 155.100C2816.500 153 2817 151.500 2818 149.700C2819.500 147.500 2822 145.500 2825.300 143.600C2829 141.500 2834 139.800 2839.800 138.600C2846 137.500 2853 136.900 2861.200 136.700C2868 136.600 2876 137 2886 138.200Z"/>
<path d="M2903.500 176C2912 185 2909 196 2896 199.500C2886 202 2870 201 2856 200.300" stroke-width="10.500" stroke-linecap="butt"/>
<path d="M2824 205C2820 214 2819.500 224 2826 229.500C2834 236 2860 233 2878 236C2890 238 2894 246 2888.500 253.500C2886.500 256 2884.500 257.300 2882 258" stroke-width="10.500"/>
<path d="M2842 251C2830 257 2825 268 2828.600 277C2830.500 281 2834 283 2838 283.800" stroke-width="9"/>
<path d="M2836 283.200C2842 285 2850 283.800 2858 281.500" stroke-width="7.200"/>
<path d="M2855 282.200C2864 279.500 2873 277.600 2881 280.500C2886 282.500 2890 286 2893.300 288.900" stroke-width="5"/>
<path d="M2916 144L2900.500 144.300L2911 150.500Z" fill="#0097b2" stroke="none"/>
<path d="M2906 146.800L2920.900 151.200L2930.100 155.400M2920.900 151.200L2925.500 159.300" stroke-width="2.600"/>
</svg>
<svg class="ic" style="left:66px;top:1716px" width="140" height="190" viewBox="66 1716 140 190" fill="none" stroke="#fff" stroke-linecap="round" stroke-linejoin="round">
<path d="M120 1731.5c-8-2-18-1-21 7-2 6-1 40-2 54 0 12 6 22 18 27" stroke-width="6.2"/>
<path d="M145.5 1737c9 2 16 6 15.500 14-0.500 5-17 37-25.500 52-5 8-12 14-20.500 16" stroke-width="6.2"/>
<path d="M114 1819c-2 8-1 30 1 44 3 18 14 27 28 27 14 0 24-9 24-21 0-10-5-18-12-19-5-1-8 3-6 6 2 4 12 5 20-1 9-7 15-16 15-24 0-11-10-19-25-19-15 0-30 6-42 11l-16 9" stroke-width="6.2"/>
<circle cx="89.500" cy="1841" r="14.200" fill="#fff" stroke="none"/>
</svg>
<svg class="ic" style="left:1330px;top:1360px" width="340" height="310" viewBox="1330 1360 340 310" fill="none" stroke-linecap="round">
<path d="M1498 1425.2C1486 1399.2 1462 1379.6 1432 1376.6C1402 1373.6 1376 1386.6 1360 1408.6C1345 1430.6 1343 1458.600 1352.400 1482.6C1362.400 1506.6 1382 1528.6 1406 1554.6C1434 1584.6 1466 1616 1497.200 1654L1496.300 1645C1494 1615 1482 1590 1465.200 1566C1448 1542 1428 1520 1413.300 1499.900C1403 1484 1400 1462 1403.800 1448C1408 1430 1424 1414 1441.600 1409.100C1458 1405 1476 1408 1492 1418Z" fill="#ffbd59"/>
<path d="M1462 1495.200H1493.500L1507.700 1528.600L1525.400 1462.300L1538.300 1495.200H1557.200L1571.400 1528.600L1589.800 1462.300L1603.200 1494C1623.200 1494 1641.200 1482 1647.200 1464C1653.200 1446 1649.200 1422 1633.200 1406C1617.200 1390 1593.200 1378 1567.200 1378C1541.200 1378 1513.200 1394 1498 1425.200C1486 1399.200 1462 1379.600 1432 1376.600C1402 1373.600 1376 1386.600 1360 1408.600C1345 1430.600 1343 1458.600 1352.400 1482.600C1362.400 1506.600 1382 1528.600 1406 1554.600C1434 1584.600 1466 1616 1497.200 1654C1525.200 1619 1571.200 1575 1612.900 1538.300" stroke="#fff" stroke-width="7.6" stroke-linejoin="miter" stroke-miterlimit="10"/>
</svg>
</section>
</main>
</body></html>
